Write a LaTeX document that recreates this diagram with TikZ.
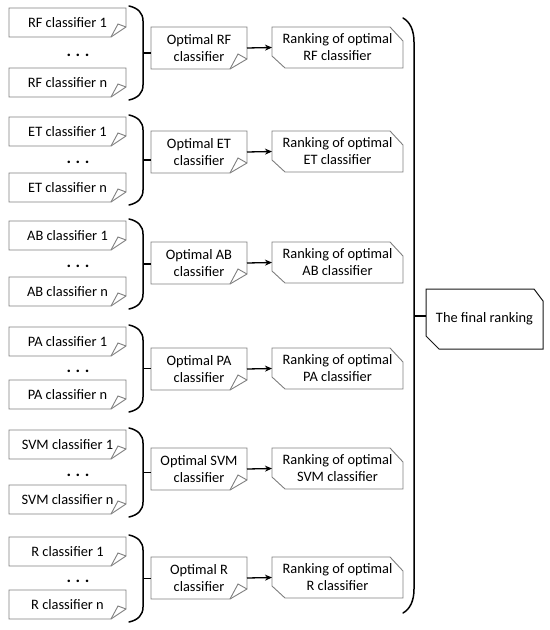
\documentclass[tikz,border=0pt]{standalone}
\usepackage{fontspec}
\setmainfont{Carlito}
\usetikzlibrary{arrows.meta}
\newcommand\drawnote[5]{% name, fold w, fold h, apex dx, apex dy
  \draw[boxline] (#1.north west) -- (#1.north east) -- ([yshift=#3]#1.south east)
     -- ([xshift=-#2]#1.south east) -- (#1.south west) -- cycle;
  \draw[boxline] ([xshift=-#2]#1.south east) -- ([xshift=-#4,yshift=#5]#1.south east)
     -- ([yshift=#3]#1.south east);}
\newcommand\drawcut[6]{% name, line style, tr w, tr h, bl w, bl h
  \draw[#2] (#1.north west) -- ([xshift=-#3]#1.north east) -- ([yshift=-#4]#1.north east)
     -- (#1.south east) -- ([xshift=#5]#1.south west) -- ([yshift=#6]#1.south west) -- cycle;}
\begin{document}
\begin{tikzpicture}[x=1bp,y=-1bp,
  txt/.style={inner sep=0pt, outer sep=0pt, align=center, font=\fontsize{14.4bp}{17bp}\selectfont},
  boxline/.style={draw=black!50, line width=0.9bp, line join=miter},
  finalline/.style={draw=black!90, line width=1bp},
  bracket/.style={draw=black, line width=1.5bp, line cap=round},
  tick/.style={draw=black, line width=1.3bp},
  arr/.style={draw=black, line width=1.3bp, -{Stealth[length=7bp,width=6bp]}},
  dotsnode/.style={inner sep=0pt, font=\fontsize{17bp}{17bp}\selectfont\bfseries}]
\useasboundingbox (0,0) rectangle (550,630);
\fill[white] (0,0) rectangle (550,630);
\foreach \lab/\ta/\tn/\to [count=\i] in {RF/8/68/27, ET/117/173/131, AB/221/277/242, PA/327/380/348, SVM/430/485/448, R/537/590/557}{
  \node[txt, minimum width=117bp, minimum height=29bp] (ca\i) at (67.5,{\ta+14.5}) {\lab{} classifier 1};
  \node[txt, minimum width=117bp, minimum height=29bp] (cn\i) at (67.5,{\tn+14.5}) {\lab{} classifier n};
  \node[dotsnode] (d\i) at (78,{(\ta+29+\tn)/2+3}) {.\hspace{4.5bp}.\hspace{4.5bp}.};
  \node[txt, minimum width=96bp, minimum height=42bp] (o\i) at (199,{\to+21}) {Optimal \lab\\classifier};
  \node[txt, minimum width=131bp, minimum height=41bp] (r\i) at (337.5,{\to+20.5}) {Ranking of optimal\\\lab{} classifier};
  \drawnote{ca\i}{15bp}{10bp}{8bp}{13bp}
  \drawnote{cn\i}{15bp}{10bp}{8bp}{13bp}
  \drawnote{o\i}{17bp}{10bp}{9bp}{15bp}
  \drawcut{r\i}{boxline}{13bp}{14bp}{13bp}{12bp}
  \pgfmathsetmacro\ya{\ta-2}
  \pgfmathsetmacro\yb{\tn+32}
  \coordinate (bt\i) at (129,\ya);
  \coordinate (bb\i) at (129,\yb);
  \coordinate (bm\i) at (143,{(\ya+\yb)/2});
  \draw[bracket] (bt\i) .. controls (138,\ya+2) and (143,\ya+7) .. (143,\ya+15)
     -- (143,\yb-15) .. controls (143,\yb-7) and (138,\yb-2) .. (bb\i);
  \draw[tick] (bm\i) -- (o\i.west |- bm\i);
  \draw[arr] (o\i.east) -- (r\i.west);
}
\node[txt, minimum width=117bp, minimum height=60bp] (fin) at (484.5,319) {The final ranking};
\drawcut{fin}{finalline}{9bp}{12bp}{13bp}{13bp}
\coordinate (BT) at (403,18);
\coordinate (BB) at (403,613);
\coordinate (BM) at (414,316);
\draw[bracket] (BT) .. controls (410,22) and (414,30) .. (414,42)
   -- (414,589) .. controls (414,601) and (410,609) .. (BB);
\draw[tick] (BM) -- (fin.west |- BM);
\end{tikzpicture}
\end{document}
